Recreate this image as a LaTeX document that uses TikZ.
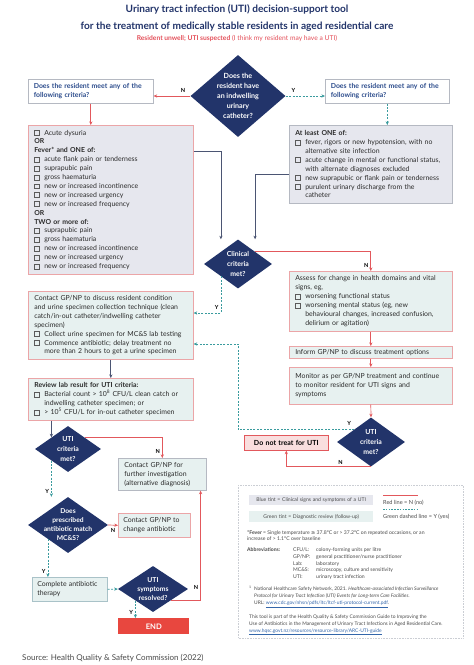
\documentclass[tikz,border=0pt]{standalone}
\usepackage{fontspec}
\setmainfont{Lato}
\newfontfamily\symfont{DejaVu Sans}
\usetikzlibrary{shapes.geometric, arrows.meta}

\definecolor{navy}{HTML}{22346A}
\definecolor{qblue}{HTML}{2C4C8C}
\definecolor{nored}{HTML}{E2585C}
\definecolor{subred}{HTML}{E4505A}
\definecolor{yesteal}{HTML}{3A9B9E}
\definecolor{flowgrey}{HTML}{4B5573}
\definecolor{bluetint}{HTML}{E6E7EE}
\definecolor{greentint}{HTML}{E7F1F0}
\definecolor{pinkline}{HTML}{EBA5A7}
\definecolor{greyline}{HTML}{B5B9C2}
\definecolor{tealline}{HTML}{A9C2C8}
\definecolor{pinkfill}{HTML}{F9DEDE}
\definecolor{endred}{HTML}{E8473F}
\definecolor{linkblue}{HTML}{3366AA}
\definecolor{legendgrey}{HTML}{4A4A4A}
\definecolor{boxtext}{HTML}{2B2B2B}
\definecolor{tickgrey}{HTML}{5A5A5A}

% check box and hanging indent for box lists
\newcommand{\chk}{\makebox[10pt][l]{{\color{tickgrey}\fboxsep=0pt\fboxrule=0.3pt\fbox{\rule{0pt}{4.6pt}\hspace{4.6pt}}}}}
\newcommand{\hang}{\hspace*{10pt}}

\tikzset{
  infobox/.style={anchor=north west, align=left, inner xsep=6pt, inner ysep=2pt, line width=0.6pt,
    text=boxtext, font=\fontsize{6.9}{8.9}\selectfont},
  question/.style={infobox, draw=greyline, fill=white, text=qblue, font=\bfseries\fontsize{6.9}{8.9}\selectfont},
  bluebox/.style={infobox, fill=bluetint},
  greenbox/.style={infobox, fill=greentint},
  decide/.style={diamond, fill=navy, text=white, align=center, inner sep=-12pt,
    font=\bfseries\fontsize{6.9}{9.8}\selectfont},
  nolink/.style={draw=nored, line width=0.7pt, -{Stealth[length=3.6pt, width=3.2pt]}},
  yeslink/.style={draw=yesteal, line width=0.7pt, dash pattern=on 2pt off 1.4pt, -{Stealth[length=3.6pt, width=3.2pt]}},
  flowlink/.style={draw=flowgrey, line width=0.7pt, -{Stealth[length=3.6pt, width=3.2pt]}},
  yn/.style={font=\bfseries\fontsize{5.6}{6}\selectfont, inner sep=1pt},
  legtext/.style={font=\fontsize{5.1}{6.8}\selectfont, text=legendgrey, inner sep=0pt, align=left},
}

\begin{document}
\begin{tikzpicture}[x=1pt, y=-1pt]
\useasboundingbox (0,0) rectangle (474,665);
\fill[white] (0,0) rectangle (474,665);

% Title
\node[font=\bfseries\fontsize{10.1}{11}\selectfont, text=navy] (title1) at (237,9.5) {Urinary tract infection (UTI) decision-support tool};
\node[font=\bfseries\fontsize{10.1}{11}\selectfont, text=navy] (title2) at (237,26.5) {for the treatment of medically stable residents in aged residential care};
\node[font=\fontsize{6.7}{7}\selectfont, text=subred] (sub) at (237,38.5) {\textbf{Resident unwell; UTI suspected} (I think my resident may have a UTI)};

% Catheter question
\node[decide, minimum width=95pt, minimum height=82pt, font=\bfseries\fontsize{7.1}{10}\selectfont] (q) at (238,96) {Does the\\resident have\\an indwelling\\urinary\\catheter?};
\node[question, text width=114pt, minimum height=24pt, inner xsep=5.5pt] (lq) at (28,79) {Does the resident meet any of the\\following criteria?};
\node[question, text width=113pt, minimum height=24pt, inner xsep=5.5pt] (rq) at (325,79) {Does the resident meet any of the\\following criteria?};

% Criteria boxes
\node[bluebox, draw=pinkline, text width=153pt, minimum height=149pt] (lcrit) at (28,125) {%
\chk Acute dysuria\\
\textbf{OR}\\
\textbf{Fever* and ONE of:}\\
\chk acute flank pain or tenderness\\
\chk suprapubic pain\\
\chk gross haematuria\\
\chk new or increased incontinence\\
\chk new or increased urgency\\
\chk new or increased frequency\\
\textbf{OR}\\
\textbf{TWO or more of:}\\
\chk suprapubic pain\\
\chk gross haematuria\\
\chk new or increased incontinence\\
\chk new or increased urgency\\
\chk new or increased frequency};
\node[bluebox, draw=greyline, text width=151pt, minimum height=78pt] (rcrit) at (289,125) {%
\textbf{At least ONE of:}\\
\chk fever, rigors or new hypotension, with no\\
\hang alternative site infection\\
\chk acute change in mental or functional status,\\
\hang with alternate diagnoses excluded\\
\chk new suprapubic or flank pain or tenderness\\
\chk purulent urinary discharge from the\\
\hang catheter};

% Clinical criteria
\node[decide, minimum width=68pt, minimum height=49pt] (clin) at (238,264) {Clinical\\criteria\\met?};

% N branch (right)
\node[greenbox, draw=pinkline, text width=151pt, minimum height=60pt] (assess) at (289,271) {%
Assess for change in health domains and vital\\
signs, eg,\\
\chk worsening functional status\\
\chk worsening mental status (eg, new\\
\hang behavioural changes, increased confusion,\\
\hang delirium or agitation)};
\node[greenbox, draw=pinkline, text width=151pt, minimum height=12pt] (inform) at (289,346) {Inform GP/NP to discuss treatment options};
\node[greenbox, draw=pinkline, text width=151pt, minimum height=37pt] (monitor) at (289,367) {%
Monitor as per GP/NP treatment and continue\\
to monitor resident for UTI signs and\\
symptoms};
\node[decide, minimum width=68pt, minimum height=49pt] (uti2) at (371,442) {UTI\\criteria\\met?};
\node[infobox, draw=nored, fill=pinkfill, text=black, align=center, inner xsep=0pt, text width=84pt, minimum height=15pt,
  font=\bfseries\fontsize{7}{8}\selectfont] (dnt) at (244,435) {Do not treat for UTI};

% Y branch (left)
\node[greenbox, draw=pinkline, text width=153pt, minimum height=68pt] (contact) at (28,291) {%
Contact GP/NP to discuss resident condition\\
and urine specimen collection technique (clean\\
catch/in-out catheter/indwelling catheter\\
specimen)\\
\chk Collect urine specimen for MC\&S lab testing\\
\chk Commence antibiotic; delay treatment no\\
\hang more than 2 hours to get a urine specimen};
\node[greenbox, draw=pinkline, text width=153pt, minimum height=42pt] (review) at (28,378) {%
\textbf{Review lab result for UTI criteria:}\\
\chk Bacterial count > 10\textsuperscript{8} CFU/L clean catch or\\
\hang indwelling catheter specimen; or\\
\chk > 10\textsuperscript{5} CFU/L for in-out catheter specimen};
\node[decide, minimum width=66pt, minimum height=46pt] (uti1) at (68,449) {UTI\\criteria\\met?};
\node[greenbox, draw=greyline, text width=76pt, minimum height=32pt] (further) at (118,458) {%
Contact GP/NP for\\further investigation\\(alternative diagnosis)};
\node[decide, minimum width=80pt, minimum height=56pt, font=\bfseries\fontsize{6.7}{9}\selectfont] (presc) at (68,525) {Does\\prescribed\\antibiotic match\\MC\&S?};
\node[greenbox, draw=pinkline, inner xsep=5pt, text width=62pt, minimum height=24pt] (change) at (118,513) {Contact GP/NP to\\change antibiotic};
\node[greenbox, draw=tealline, inner xsep=5pt, text width=65pt, minimum height=24pt] (complete) at (32,577) {Complete antibiotic\\therapy};
\node[decide, minimum width=70pt, minimum height=46pt, font=\bfseries\fontsize{6.8}{9}\selectfont] (sym) at (153,589) {UTI\\symptoms\\resolved?};
\node[infobox, fill=endred, text=white, align=center, inner xsep=0pt, text width=71pt, minimum height=16pt,
  font=\bfseries\fontsize{7.6}{8}\selectfont] (end) at (118,618) {END};

% Connectors
\coordinate (yjoin) at ([yshift=-53pt]contact.north east);
\draw[nolink] (q.west) -- node[yn, pos=0.2, above=2pt]{N} (q.west -| lq.east);
\draw[yeslink] (q.east) -- node[yn, pos=0.2, above=2pt]{Y} (q.east -| rq.west);
\draw[nolink] (lq.south) -- (lq.south |- lcrit.north);
\draw[yeslink] (rq.south) -- (rq.south |- rcrit.north);
\draw[flowlink] ([yshift=-26pt]lcrit.north east) -| (clin.north west |- clin.north);
\draw[flowlink] ([yshift=-49pt]rcrit.north west) -| (clin.north east |- clin.north);
\draw[nolink] (clin.north east) -| node[yn, pos=0.85, left=1pt]{N} (assess.north);
\draw[yeslink] (clin.south west) |- node[yn, pos=0.42, left=1pt]{Y} ([yshift=-22pt]contact.north east);
\draw[nolink] (assess.south) -- (inform.north);
\draw[nolink] (inform.south) -- (monitor.north);
\draw[nolink] (monitor.south) -- (uti2.north);
\draw[yeslink] (uti2.north west) -| node[yn, pos=0.02, above=3pt]{Y} (yjoin -| clin.south) -- (yjoin);
\draw[nolink] (uti2.south) -| node[yn, pos=0.18, above=1pt]{N} (dnt.south);
\draw[flowlink] (contact.south) -- (review.north);
\draw[flowlink] (review.south -| uti1.north west) -- (uti1.north west);
\draw[nolink] (uti1.north east) -| node[yn, pos=0.85, left=1pt]{N} (further.north);
\draw[yeslink] (uti1.south west) -- node[yn, pos=0.85, left=1pt]{Y} (uti1.south west |- presc.north);
\draw[nolink] (presc.east) -- node[yn, below=2pt]{N} (change.west);
\draw[yeslink] (presc.south west) -- node[yn, pos=0.85, left=1pt]{Y} (presc.south west |- complete.north);
\draw[yeslink] (complete.east) -- (sym.west);
\draw[yeslink] (sym.south west) -- node[yn, pos=0.7, left=1pt]{Y} (sym.south west |- end.north);
\draw[nolink] (sym.south east) -| node[yn, pos=0.56, left=1pt]{N} ([xshift=-6pt]further.south east);

% Legend
\draw[greyline!70, densely dotted, line width=0.6pt] (238,485) rectangle (463,638);
\node[legtext, anchor=north west, fill=bluetint, align=center, text width=124pt, minimum height=10pt] (bluekey) at (249,495) {Blue tint = Clinical signs and symptoms of a UTI};
\node[legtext, anchor=north west, fill=greentint, align=center, text width=124pt, minimum height=11pt] (greenkey) at (249,511) {Green tint = Diagnostic review (follow-up)};
\coordinate (redkey) at (383,495);
\coordinate (yeskey) at (383,509);
\draw[nored, line width=0.6pt] (redkey) -- ++(35,0);
\draw[yesteal, line width=0.6pt, dash pattern=on 1.6pt off 1.2pt] (yeskey) -- ++(35,0);
\node[legtext, anchor=west, font=\fontsize{5.6}{6}\selectfont] (redtext) at (383,503) {Red line = N (no)};
\node[legtext, anchor=west, font=\fontsize{5.6}{6}\selectfont] (yestext) at (383,517) {Green dashed line = Y (yes)};
\node[legtext, anchor=north west] (fever) at (247,530) {\textbf{*Fever} = Single temperature {\symfont ≥} 37.8°C or > 37.2°C on repeated occasions, or an\\increase of > 1.1°C over baseline};
\node[legtext, anchor=north west] (abbrev) at (247,547.5) {%
\makebox[46pt][l]{\textbf{Abbreviations:}}\makebox[23pt][l]{CFU/L:}colony-forming units per litre\\
\makebox[46pt][l]{}\makebox[23pt][l]{GP/NP:}general practitioner/nurse practitioner\\
\makebox[46pt][l]{}\makebox[23pt][l]{Lab:}laboratory\\
\makebox[46pt][l]{}\makebox[23pt][l]{MC\&S:}microscopy, culture and sensitivity\\
\makebox[46pt][l]{}\makebox[23pt][l]{UTI:}urinary tract infection};
\node[legtext, anchor=north west, font=\fontsize{4.9}{6.9}\selectfont] (footnote) at (249,586) {%
\textsuperscript{1}\hspace{2.5pt}National Healthcare Safety Network, 2021. \textit{Healthcare-associated Infection Surveillance}\\
\hspace*{5pt}\textit{Protocol for Urinary Tract Infection (UTI) Events for Long-term Care Facilities.}\\
\hspace*{5pt}URL: \textcolor{linkblue}{\underline{www.cdc.gov/nhsn/pdfs/ltc/ltcf-uti-protocol-current.pdf}}.};
\node[legtext, anchor=north west, font=\fontsize{4.9}{6.7}\selectfont] (guide) at (249,615) {%
This tool is part of the Health Quality \& Safety Commission Guide to Improving the\\
Use of Antibiotics in the Management of Urinary Tract Infections in Aged Residential Care.\\
\textcolor{linkblue}{\underline{www.hqsc.govt.nz/resources/resource-library/ARC-UTI-guide}}};

% Source
\node[anchor=west, inner sep=0pt, font=\fontsize{8}{9}\selectfont, text=legendgrey] (source) at (22,658) {Source: Health Quality \& Safety Commission (2022)};
\end{tikzpicture}
\end{document}
